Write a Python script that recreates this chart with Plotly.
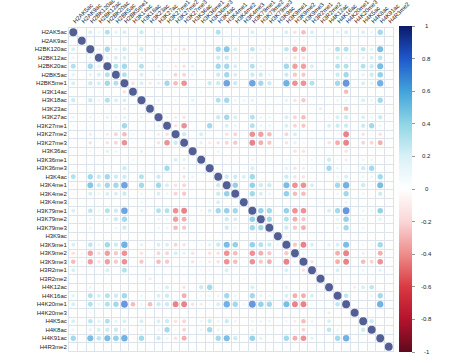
import numpy as np
import plotly.graph_objects as go

labels = ["H2AK5ac", "H2AK9ac", "H2BK120ac", "H2BK12ac", "H2BK20ac", "H2BK5ac", "H2BK5me1",
          "H3K14ac", "H3K18ac", "H3K23ac", "H3K27ac", "H3K27me1", "H3K27me2", "H3K27me3",
          "H3K36ac", "H3K36me1", "H3K36me3", "H3K4ac", "H3K4me1", "H3K4me2", "H3K4me3",
          "H3K79me1", "H3K79me2", "H3K79me3", "H3K9ac", "H3K9me1", "H3K9me2", "H3K9me3",
          "H3R2me1", "H3R2me2", "H4K12ac", "H4K16ac", "H4K20me1", "H4K20me3", "H4K5ac",
          "H4K8ac", "H4K91ac", "H4R3me2"]

# upper triangle: row i holds correlations with columns i+1 .. 37
upper = [
    [0.05,0.25,0.15,0.40,0.20,0.25,0.05,0.30,0.05,0.15,0.10,0.05, 0.05,0.05,0.05,0.05,0.40,0.10,0.10,0.05,0.25,0.05,0.05,0.05,0.25, -0.20,-0.35,0.25,0,0,0.20,0.25,0,0.25,0.15,0.45,0],
    [0.05,0,0.05,0,0,0,0,0,0,0,0, 0,0,0,0,0,0,0,0,0,0,0,0,0, -0.10,-0.10,0,0,0,0,0,0,0,0,0,0],
    [0.15,0.45,0.20,0.30,0.05,0.30,0.05,0.15,0.10,-0.15, -0.20,0.10,0.05,0.05,0.45,0.55,0.25,0.05,0.35,0.15,0.15,0.05,0.35, -0.45,-0.45,0.05,0,0.15,0.40,0.40,0.10,0.35,0.20,0.60,0.05],
    [0.20,0.25,0.25,0.05,0.15,0,0.10,0.05,0.05, 0,0,0,0,0.30,0.30,0.15,0,0.15,0.10,0,0,0.15, -0.20,-0.20,0,0,0,0.25,0.15,0,0.20,0.25,0.35,0],
    [0.40,0.45,0.05,0.40,0.05,0.20,0.10,-0.15, -0.20,0.20,0.05,0.05,0.45,0.45,0.25,0.05,0.40,0.15,0.05,0,0.45, -0.45,-0.45,0.25,0,0,0.40,0.40,0.05,0.40,0.30,0.60,0],
    [0.40,0,0.25,0,0.15,0.10,-0.25, -0.25,0.15,0,0,0.30,0.45,0.25,0,0.30,0.30,0.15,0,0.30, -0.30,-0.30,0,0,0,0.30,0.45,0,0.20,0.30,0.50,0],
    [-0.20,0.25,-0.15,0.20,0.45,-0.35, -0.50,0.05,0.05,0.30,0.30,0.70,0.30,0.05,0.70,0.45,0.30,0.05,0.65, -0.50,-0.50,0.40,0,0.05,0.45,0.75,0.05,0.25,0.20,0.65,0.05],
    [0.05,0.05,0.05,0,0.10, 0.10,0,0.10,0.05,0,0,0,0,0,0,0,0,0, -0.05,0,0,0,0,0,-0.35,0,0,0,0,0],
    [0,0.15,0,0.10, 0,0.20,0,0,0.40,0.45,0.15,0.15,0.20,0,0,0,0.20, -0.20,-0.30,0,0,0,0.15,0.15,0,0.25,0.15,0.45,0],
    [0,0,0.05, 0,0,0,0,0,0,0,0,0,0,0,0,0, 0,0,0,-0.15,0,0,-0.35,0,0,0,0,0],
    [0.15,-0.15, -0.20,0.10,0,0,0.30,0.45,0.25,0,0.40,0.15,0.15,0,0.25, -0.25,-0.35,0,0,0.10,0.25,0.30,0,0.25,0.15,0.30,0],
    [-0.20, -0.50,0,0,0.45,0,0.25,0.15,0,0.40,0.15,0.15,0,0.25, -0.25,-0.30,0,0,0.25,0.30,0.30,0,0.30,0.45,0.15,0],
    [0.30,0,0.25,0,0,-0.20,-0.25,0,-0.50,-0.45,-0.35,0,-0.25, 0.25,0,0,0,0,0.10,-0.55,0,-0.20,0.10,-0.20,0],
    [0,0.20,-0.15,-0.20,-0.25,-0.30,0,-0.55,-0.40,-0.30,0,-0.20, 0.20,0.10,0,0,-0.20,-0.40,-0.55,0,-0.25,-0.25,-0.40,0],
    [0,0,0.15,0,0,0,0,0,0,0,0, -0.20,-0.20,0,0,0,0,-0.20,0,0,0,0,0],
    [0,0,0,0,0,-0.10,0,0,0,0.10, 0,0.10,0.10,0,0.30,0.10,-0.15,0,0.15,0.15,0,0],
    [0,0,0,0.10,0.25,0,0,0,0.20, -0.20,-0.15,0.10,0,0.45,0.15,0.10,0,0.30,0.45,0,0],
    [0.30,0.30,0.25,0.45,0,0,0,0.30, -0.20,-0.20,0,0,0,0.15,0.25,0,0.15,0.15,0.45,0],
    [0.50,0,0.50,0.30,0.30,0,0.60, -0.50,-0.50,0.25,0,0,0.45,0.65,0,0.30,0.10,0.60,0],
    [0,0.45,0.25,0.15,0,0.50, -0.35,-0.35,0,0,0,0.15,0.45,0,0.15,0,0.30,0],
    [0,0,0,0,0, 0,0.10,0,0.10,0,0,0.15,0,0,0,0,0],
    [0.50,0.45,0,0.50, -0.50,-0.50,0,0,0.25,0.45,0.75,0,0.15,0.15,0.50,0],
    [0.45,0,0.40, -0.40,-0.30,0,0,0,0.20,0.50,0,0.15,0,0.20,0],
    [0,0.30, -0.30,-0.40,0,0,0,0.15,0.45,0,0.15,0,0,0],
    [0.15, 0,0,0,0,0,0,0,0,0,0,0,0],
    [-0.30,-0.55,0.25,0,0.20,0.25,0.60,0,-0.10,0.10,0.45,0],
    [0.15,0.10,0,0,-0.40,-0.55,0,-0.15,0.10,-0.40,0],
    [-0.20,0,0.10,-0.40,-0.55,0,-0.35,-0.25,-0.50,0],
    [0,0,0.25,0.10,0,0.15,0,0.20,0],
    [0,0.10,0,0,0,0,0,0],
    [0,0,-0.15,0.25,0.35,0,0],
    [0.35,0,0,0.15,0.45,0],
    [0,0,0,0.65,0],
    [0,0,0,0],
    [0.30,0,0],
    [0,0],
    [0],
]

cbar_ticks = [1, 0.8, 0.6, 0.4, 0.2, 0, -0.2, -0.4, -0.6, -0.8, -1]
cbar_ticktext = ["1", "0.8", "0.6", "0.4", "0.2", "0", "-0.2", "-0.4", "-0.6", "-0.8", "-1"]

n = len(labels)
M = np.eye(n)
for i, row in enumerate(upper):
    assert len(row) == n - 1 - i, (i, len(row))
    for k, v in enumerate(row):
        j = i + 1 + k
        M[i, j] = v
        M[j, i] = v

W, H = 474, 363
ml, mr, mt, mb = 68.7, 81, 27.7, 12
pw = W - ml - mr
ph = H - mt - mb
cell = pw / n

xs, ys, vals, sizes = [], [], [], []
for i in range(n):
    for j in range(n):
        v = M[i, j]
        if v == 0:
            continue
        xs.append(j)
        ys.append(i)
        vals.append(v)
        sizes.append(0.92 * cell * np.sqrt(abs(v)))

colorscale = [[0.0, "#5E0A1E"], [0.1, "#B5122C"], [0.2, "#D93A42"], [0.3, "#EE8C8A"],
              [0.4, "#FAD6D6"], [0.5, "#FFFFFF"], [0.6, "#D8F1F6"], [0.7, "#8ED6E6"],
              [0.8, "#42A3DA"], [0.9, "#1F58CC"], [1.0, "#0A1A68"]]

cb_len = 326.3 / ph
cb_x = (399.3 - ml) / pw
cb_yc = (H - mb - 188.85) / ph

fig = go.Figure(go.Scatter(
    x=xs, y=ys, mode="markers", hoverinfo="skip",
    marker=dict(size=sizes, sizemode="diameter", color=vals, cmin=-1, cmax=1,
                colorscale=colorscale, line=dict(width=0),
                colorbar=dict(x=cb_x, xanchor="left", y=cb_yc, yanchor="middle",
                              len=cb_len, lenmode="fraction", thickness=13.4,
                              xpad=0, ypad=0, outlinewidth=0,
                              tickvals=cbar_ticks, showticklabels=False,
                              ticks="outside", ticklen=3, tickcolor="#999999", tickwidth=0.6))
))

for v, t in zip(cbar_ticks, cbar_ticktext):
    yp = (cb_yc - cb_len / 2) + (v + 1) / 2 * cb_len
    fig.add_annotation(x=(427 - ml) / pw, y=yp, xref="paper", yref="paper", text=t,
                       showarrow=False, xanchor="center", yanchor="middle",
                       font=dict(size=6, color="#222222", family="Liberation Sans"))

gridc = "#DCE3EA"
fig.update_xaxes(range=[-0.5, n - 0.5], side="top", tickmode="array", tickvals=list(range(n)),
                 ticktext=labels, tickangle=-45, ticks="", showgrid=False, zeroline=False,
                 tickfont=dict(size=6, color="#222222", family="Liberation Sans"),
                 showline=True, mirror=True, linecolor=gridc, linewidth=1,
                 minor=dict(tickmode="linear", tick0=-0.5, dtick=1, showgrid=True,
                            gridcolor=gridc, gridwidth=1, ticks=""))
fig.update_yaxes(range=[n - 0.5, -0.5], tickmode="array", tickvals=list(range(n)),
                 ticktext=labels, ticks="", showgrid=False, zeroline=False,
                 tickfont=dict(size=6, color="#222222", family="Liberation Sans"),
                 showline=True, mirror=True, linecolor=gridc, linewidth=1,
                 minor=dict(tickmode="linear", tick0=-0.5, dtick=1, showgrid=True,
                            gridcolor=gridc, gridwidth=1, ticks=""))

fig.update_layout(width=W, height=H, margin=dict(l=ml, r=mr, t=mt, b=mb, autoexpand=False),
                  plot_bgcolor="white", paper_bgcolor="white", showlegend=False)

fig.write_html("out.html", config={"displayModeBar": False},
               post_script="document.body.style.margin='0px';")
